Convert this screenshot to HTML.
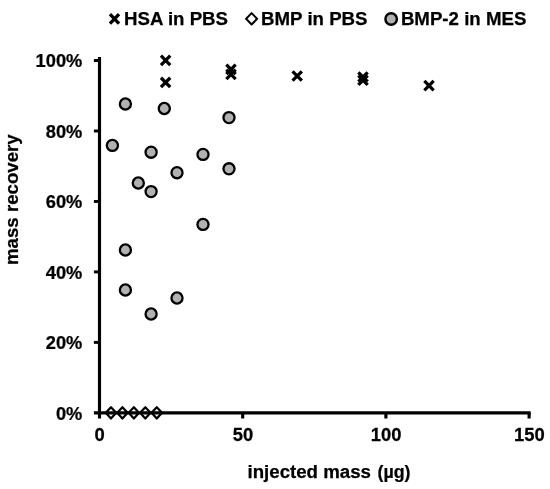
<!DOCTYPE html><html><head><meta charset="utf-8"><title>chart</title><style>html,body{margin:0;padding:0;background:#fff}svg{display:block}text{font-family:"Liberation Sans",Arial,sans-serif;font-weight:bold;font-size:18.67px;fill:#000;stroke:#000;stroke-width:0.25px}</style></head><body>
<svg width="550" height="489" viewBox="0 0 550 489">
<rect width="550" height="489" fill="#fff"/>
<path d="M109.95 14.10L119.05 23.70M109.95 23.70L119.05 14.10" stroke="#000" stroke-width="3.3" fill="none"/>
<text transform="translate(124.00 25.10) scale(1.0 1.0)">HSA in PBS</text>
<path d="M246.10 18.8L251.6 13.10L257.10 18.8L251.6 24.50Z" fill="#fff" stroke="#000" stroke-width="2.0" stroke-linejoin="round"/>
<text transform="translate(261.10 25.10) scale(1.0 1.0)">BMP in PBS</text>
<circle cx="391.15" cy="19.0" r="5.75" fill="#b3b0b0" stroke="#000" stroke-width="2.4"/>
<text transform="translate(400.90 25.10) scale(1.0 1.0)">BMP-2 in MES</text>
<path d="M105.76 412.85L110.96 407.25L116.16 412.85L110.96 418.45Z" fill="#fff" stroke="#000" stroke-width="2.25" stroke-linejoin="round"/>
<path d="M117.21 412.85L122.41 407.25L127.61 412.85L122.41 418.45Z" fill="#fff" stroke="#000" stroke-width="2.25" stroke-linejoin="round"/>
<path d="M128.67 412.85L133.87 407.25L139.07 412.85L133.87 418.45Z" fill="#fff" stroke="#000" stroke-width="2.25" stroke-linejoin="round"/>
<path d="M140.12 412.85L145.32 407.25L150.52 412.85L145.32 418.45Z" fill="#fff" stroke="#000" stroke-width="2.25" stroke-linejoin="round"/>
<path d="M151.58 412.85L156.78 407.25L161.98 412.85L156.78 418.45Z" fill="#fff" stroke="#000" stroke-width="2.25" stroke-linejoin="round"/>
<circle cx="112.4" cy="145.4" r="5.55" fill="#b3b0b0" stroke="#000" stroke-width="2.3"/>
<circle cx="125.4" cy="104" r="5.55" fill="#b3b0b0" stroke="#000" stroke-width="2.3"/>
<circle cx="125.4" cy="250" r="5.55" fill="#b3b0b0" stroke="#000" stroke-width="2.3"/>
<circle cx="125.4" cy="290" r="5.55" fill="#b3b0b0" stroke="#000" stroke-width="2.3"/>
<circle cx="138.3" cy="183" r="5.55" fill="#b3b0b0" stroke="#000" stroke-width="2.3"/>
<circle cx="151.1" cy="152.2" r="5.55" fill="#b3b0b0" stroke="#000" stroke-width="2.3"/>
<circle cx="151.1" cy="191.6" r="5.55" fill="#b3b0b0" stroke="#000" stroke-width="2.3"/>
<circle cx="151.1" cy="314" r="5.55" fill="#b3b0b0" stroke="#000" stroke-width="2.3"/>
<circle cx="164.3" cy="108.5" r="5.55" fill="#b3b0b0" stroke="#000" stroke-width="2.3"/>
<circle cx="177" cy="172.7" r="5.55" fill="#b3b0b0" stroke="#000" stroke-width="2.3"/>
<circle cx="177" cy="298" r="5.55" fill="#b3b0b0" stroke="#000" stroke-width="2.3"/>
<circle cx="203" cy="154.4" r="5.55" fill="#b3b0b0" stroke="#000" stroke-width="2.3"/>
<circle cx="203" cy="224.4" r="5.55" fill="#b3b0b0" stroke="#000" stroke-width="2.3"/>
<circle cx="229" cy="117.6" r="5.55" fill="#b3b0b0" stroke="#000" stroke-width="2.3"/>
<circle cx="229" cy="168.8" r="5.55" fill="#b3b0b0" stroke="#000" stroke-width="2.3"/>
<path d="M160.95 55.70L170.25 65.10M160.95 65.10L170.25 55.70" stroke="#000" stroke-width="3.25" fill="none"/>
<path d="M160.95 77.75L170.25 87.15M160.95 87.15L170.25 77.75" stroke="#000" stroke-width="3.25" fill="none"/>
<path d="M226.35 64.70L235.65 74.10M226.35 74.10L235.65 64.70" stroke="#000" stroke-width="3.25" fill="none"/>
<path d="M226.35 69.70L235.65 79.10M226.35 79.10L235.65 69.70" stroke="#000" stroke-width="3.25" fill="none"/>
<path d="M292.55 71.30L301.85 80.70M292.55 80.70L301.85 71.30" stroke="#000" stroke-width="3.25" fill="none"/>
<path d="M358.35 72.30L367.65 81.70M358.35 81.70L367.65 72.30" stroke="#000" stroke-width="3.25" fill="none"/>
<path d="M358.35 75.50L367.65 84.90M358.35 84.90L367.65 75.50" stroke="#000" stroke-width="3.25" fill="none"/>
<path d="M424.35 80.90L433.65 90.30M424.35 90.30L433.65 80.90" stroke="#000" stroke-width="3.25" fill="none"/>
<path d="M99.5 57.0V418.5" stroke="#000" stroke-width="3.15" fill="none"/>
<path d="M93.9 412.85H530.68" stroke="#000" stroke-width="3.15" fill="none"/>
<path d="M93.9 342.38H99.5" stroke="#000" stroke-width="2.95" fill="none"/>
<path d="M93.9 271.91H99.5" stroke="#000" stroke-width="2.95" fill="none"/>
<path d="M93.9 201.44H99.5" stroke="#000" stroke-width="2.95" fill="none"/>
<path d="M93.9 130.97H99.5" stroke="#000" stroke-width="2.95" fill="none"/>
<path d="M93.9 60.50H99.5" stroke="#000" stroke-width="2.95" fill="none"/>
<path d="M242.70 412.85V418.5" stroke="#000" stroke-width="3.15" fill="none"/>
<path d="M385.90 412.85V418.5" stroke="#000" stroke-width="3.15" fill="none"/>
<path d="M529.10 412.85V418.5" stroke="#000" stroke-width="3.15" fill="none"/>
<text transform="translate(82.30 419.50) scale(0.978 1.0)" text-anchor="end">0%</text>
<text transform="translate(82.30 349.03) scale(0.978 1.0)" text-anchor="end">20%</text>
<text transform="translate(82.30 278.56) scale(0.978 1.0)" text-anchor="end">40%</text>
<text transform="translate(82.30 208.09) scale(0.978 1.0)" text-anchor="end">60%</text>
<text transform="translate(82.30 137.62) scale(0.978 1.0)" text-anchor="end">80%</text>
<text transform="translate(82.30 67.15) scale(0.978 1.0)" text-anchor="end">100%</text>
<text transform="translate(99.70 441.30) scale(0.985 1.0)" text-anchor="middle">0</text>
<text transform="translate(242.90 441.30) scale(0.985 1.0)" text-anchor="middle">50</text>
<text transform="translate(386.10 441.30) scale(0.985 1.0)" text-anchor="middle">100</text>
<text transform="translate(529.30 441.30) scale(0.985 1.0)" text-anchor="middle">150</text>
<text transform="translate(247.50 478.30) scale(1.0 1.0)">injected mass</text>
<text transform="translate(410.50 478.30) scale(0.955 1.0)" text-anchor="end">(µg)</text>
<text transform="translate(18.45 199.65) rotate(-90) scale(1.0 1.0)" text-anchor="middle">mass recovery</text>
</svg></body></html>
